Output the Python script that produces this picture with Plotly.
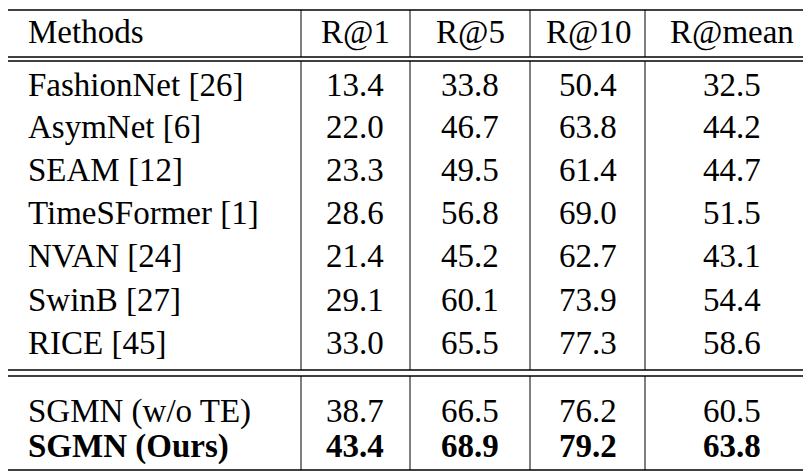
import plotly.graph_objects as go

header = ['Methods', 'R@1', 'R@5', 'R@10', 'R@mean']
methods = ['FashionNet [26]', 'AsymNet [6]', 'SEAM [12]', 'TimeSFormer [1]',
           'NVAN [24]', 'SwinB [27]', 'RICE [45]', 'SGMN (w/o TE)', 'SGMN (Ours)']
r1 = [13.4, 22.0, 23.3, 28.6, 21.4, 29.1, 33.0, 38.7, 43.4]
r5 = [33.8, 46.7, 49.5, 56.8, 45.2, 60.1, 65.5, 66.5, 68.9]
r10 = [50.4, 63.8, 61.4, 69.0, 62.7, 73.9, 77.3, 76.2, 79.2]
rmean = [32.5, 44.2, 44.7, 51.5, 43.1, 54.4, 58.6, 60.5, 63.8]

# layout in pixel units
row_y = [77, 119, 162, 205, 248, 292, 335, 403, 438]
header_y = 24
col_edges = [0, 293, 402, 522, 637, 811]
col_x = [18, 347, 462, 580, 724]
font = dict(family='Liberation Serif', size=33, color='black')

fig = go.Figure()
fig.add_trace(go.Scatter(x=[0, 811], y=[0, 471], mode='markers', marker=dict(opacity=0), hoverinfo='skip'))

def add_text(x, y, t, left=False, bold=False):
    fig.add_annotation(x=x, y=y, text=f'<b>{t}</b>' if bold else t, showarrow=False,
                       xanchor='left' if left else 'center', yanchor='middle', font=font)

for j, h in enumerate(header):
    add_text(col_x[j], header_y, h, left=(j == 0))
for i, m in enumerate(methods):
    bold = i == len(methods) - 1
    add_text(col_x[0], row_y[i], m, left=True, bold=bold)
    for j, v in enumerate([r1[i], r5[i], r10[i], rmean[i]]):
        add_text(col_x[j + 1], row_y[i], f'{v:.1f}', bold=bold)

for y in [2, 49, 53, 362, 368, 462, 468]:
    fig.add_shape(type='line', x0=0, x1=811, y0=y, y1=y, line=dict(color='black', width=1.5))
for x in col_edges[1:-1]:
    for y0, y1 in [(2, 49), (53, 362), (368, 462)]:
        fig.add_shape(type='line', x0=x, x1=x, y0=y0, y1=y1, line=dict(color='black', width=1))

fig.update_xaxes(range=[0, 811], visible=False)
fig.update_yaxes(range=[471, 0], visible=False)
fig.update_layout(width=811, height=471, margin=dict(l=0, r=0, t=0, b=0),
                  plot_bgcolor='white', paper_bgcolor='white', showlegend=False)
fig.write_html('out.html')
